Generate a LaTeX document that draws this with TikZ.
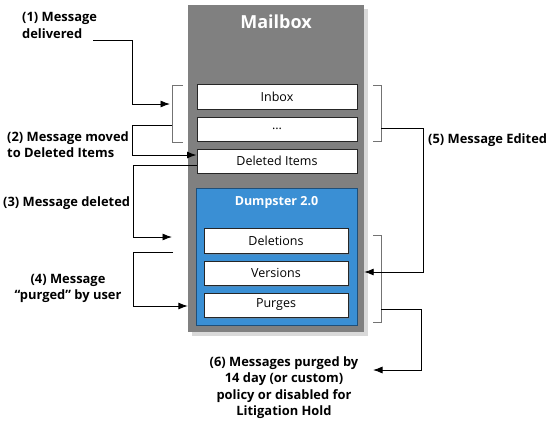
\documentclass[tikz,border=0pt]{standalone}
\usepackage{fontspec}
\setmainfont{Open Sans}
\usetikzlibrary{shadows,arrows.meta}
\definecolor{mbgray}{HTML}{808080}
\definecolor{dblue}{HTML}{3A8FD4}
\definecolor{dblueb}{HTML}{1E4F7A}
\tikzset{
  lbl/.style={font=\fontsize{12.9}{16.3}\selectfont\bfseries, inner sep=0pt},
  slot/.style={draw=black!85, line width=1pt, fill=white, minimum height=24pt, inner sep=0pt,
     font=\fontsize{12.5}{14}\selectfont, drop shadow={shadow xshift=1.5pt, shadow yshift=-1.5pt, opacity=0.35}},
  arr/.style={-{Latex[length=9.5pt,width=7pt]}, line width=0.9pt},
  brk/.style={draw=black!55, line width=0.7pt},
}
\begin{document}
\begin{tikzpicture}[x=1pt,y=-1pt]
\useasboundingbox (0,0) rectangle (551,421);
% mailbox
\node[fill=mbgray, minimum width=176pt, minimum height=327pt, inner sep=0pt,
  drop shadow={shadow xshift=4pt, shadow yshift=-4pt, opacity=0.3}] (mailbox) at (276,168.5) {};
\node[font=\fontsize{18}{20}\selectfont\bfseries, text=white, inner sep=0pt] (mtitle) at (276,22) {Mailbox};
\node[slot, minimum width=160pt, minimum height=25pt] (inbox) at (277,96.5) {Inbox};
\node[slot, minimum width=160pt] (dots) at (277,129) {...};
\node[slot, minimum width=160pt] (deleted) at (277,161) {Deleted Items};
% dumpster
\node[fill=dblue, draw=dblueb, line width=1pt, minimum width=161pt, minimum height=137pt, inner sep=0pt,
  drop shadow={shadow xshift=2pt, shadow yshift=-2pt, opacity=0.35}] (dump) at (276.5,256.5) {};
\node[font=\fontsize{12.5}{14}\selectfont\bfseries, text=white, inner sep=0pt] (dtitle) at (276.5,202) {Dumpster 2.0};
\node[slot, minimum width=144pt, minimum height=25pt] (deletions) at (276,240.5) {Deletions};
\node[slot, minimum width=144pt] (versions) at (276,273) {Versions};
\node[slot, minimum width=144pt] (purges) at (276,305) {Purges};
% labels
\node[lbl, anchor=west, align=left] (lab1) at (22,25.5) {(1) Message\\delivered};
\node[lbl, anchor=west, align=left] (lab2) at (7,144.5) {(2) Message moved\\to Deleted Items};
\node[lbl, anchor=west] (lab3) at (3,203) {(3) Message deleted};
\node[lbl, align=center] (lab4) at (68,288.5) {(4) Message\\“purged” by user};
\node[lbl, anchor=west] (lab5) at (428,140) {(5) Message Edited};
\node[lbl, align=center] (lab6) at (284,387.5) {(6) Messages purged by\\14 day (or custom)\\policy or disabled for\\Litigation Hold};
% brackets
\draw[brk] (183,85) -- (172,85) -- (172,142) -- (183,142);
\coordinate (bl1) at (172,125);
\draw[brk] (373,85) -- (381,85) -- (381,141) -- (373,141);
\coordinate (br1) at (381,128);
\draw[brk] (373,235) -- (381,235) -- (381,322) -- (373,322);
\coordinate (br2) at (381,309);
% connector ends
\coordinate (c1) at (93,40);
\coordinate (t1) at (170,104);
\coordinate (t3) at (172,237);
\coordinate (c4) at (173,252);
\coordinate (t6) at (373,370);
% arrows
\draw[arr] (c1) -- (132,40) -- (132,104) -- (t1);
\draw[arr] (bl1) -- (132,125) -- (132,155) -- (deleted.west |- 0,155);
\draw[arr] (deleted.west |- 0,165) -- (133,165) -- (133,237) -- (t3);
\draw[arr] (c4) -- (133,252) -- (133,306) -- (mailbox.west |- 0,306);
\draw[arr] (br1) -- (423,128) -- (423,272) -- (mailbox.east |- 0,272);
\draw[arr] (br2) -- (421,309) -- (421,370) -- (t6);
\end{tikzpicture}
\end{document}
